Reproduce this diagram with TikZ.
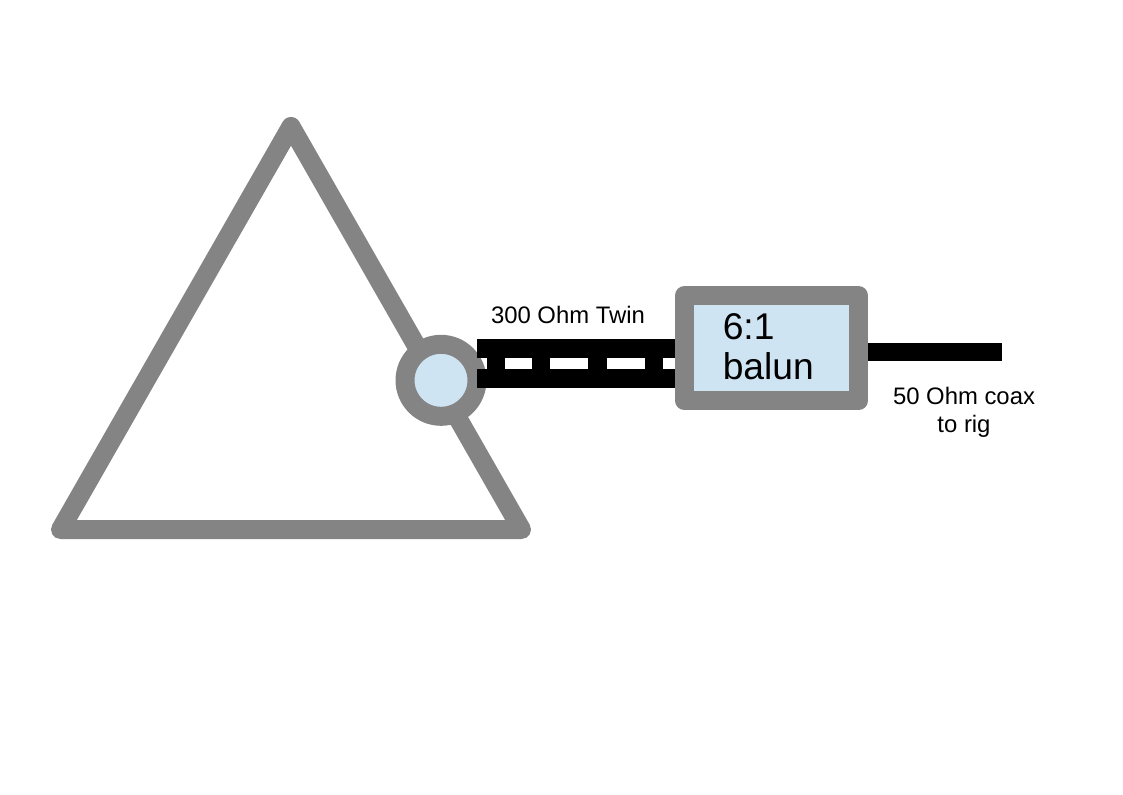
\documentclass[tikz,border=0pt]{standalone}
\usepackage{fontspec}
\setmainfont{Liberation Sans}
\definecolor{framegray}{HTML}{848484}
\definecolor{paleblue}{HTML}{CFE4F3}
\tikzset{
  antenna/.style={draw=framegray,line width=14.25pt,line join=round},
  framed/.style={draw=framegray,fill=paleblue,line width=14.25pt,line join=round,inner sep=0pt},
  rail/.style={draw=black,line width=14pt},
  rung/.style={draw=black,line width=13.8pt},
  small/.style={font=\fontsize{17.9pt}{21pt}\selectfont,inner sep=0pt,align=center},
  big/.style={font=\fontsize{27.9pt}{30pt}\selectfont,inner sep=0pt,align=left}
}
\begin{document}
\begin{tikzpicture}[x=0.75pt,y=-0.75pt]
\useasboundingbox (0,0) rectangle (1123,794);
\path[antenna] (291,126.5) -- (60.5,529.5) -- (521.5,529.5) -- cycle;
\node[framed,circle,minimum size=54pt] (feed) at (441,380.3) {};
\node[framed,rectangle,minimum width=130.5pt,minimum height=79pt] (balun) at (771.5,348.2) {};
% twin lead
\coordinate (railTopA) at (477,348.3);
\coordinate (railTopB) at (balun.west |- railTopA);
\coordinate (railBotA) at (477,378.4);
\coordinate (railBotB) at (balun.west |- railBotA);
\path[rail] (railTopA) -- (railTopB);
\path[rail] (railBotA) -- (railBotB);
\foreach \x in {496,541,597.5,654}{
  \coordinate (rungT) at (\x,355);
  \coordinate (rungB) at (\x,372);
  \path[rung] (rungT) -- (rungB);
}
% coax
\coordinate (coaxA) at (balun.east |- 0,352);
\coordinate (coaxB) at (1002,352);
\path[draw=black,line width=13.9pt] (coaxA) -- (coaxB);
% labels
\node[small] (twinlabel) at (568,315) {300 Ohm Twin};
\node[small] (coaxlabel) at (964,412) {50 Ohm coax\\to rig};
\node[big,anchor=west] (balunlabel) at (722.5,347) {6:1\\balun};
\end{tikzpicture}
\end{document}
